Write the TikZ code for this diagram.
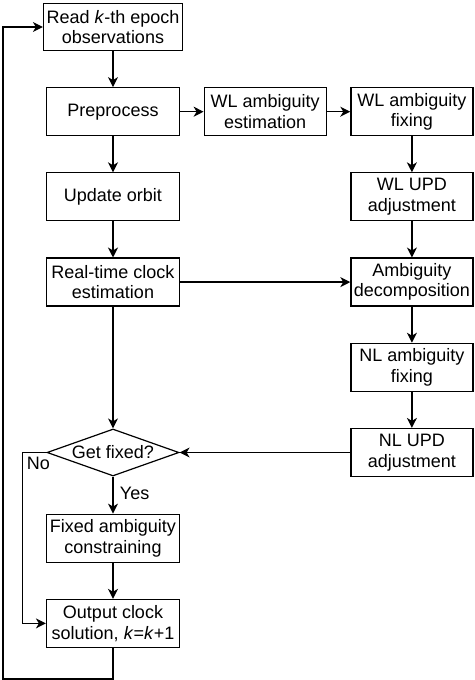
\documentclass[tikz,border=0pt]{standalone}
\usepackage{fontspec}
\setmainfont{Liberation Sans}
\usetikzlibrary{positioning, shapes.geometric, arrows.meta}

\tikzset{
	stepbox/.style={draw, minimum width=133pt, minimum height=48pt, align=center, inner sep=2pt},
	sidebox/.style={stepbox, minimum width=122pt},
	decision/.style={draw, diamond, aspect=2.8, inner sep=0pt, minimum width=132pt, minimum height=47pt}
}

\begin{document}
\begin{tikzpicture}[>={Stealth[length=10pt, width=10pt, inset=3pt]}, line width=1.2pt,
			x=1pt, y=1pt, node distance=36pt and 23.5pt,
			font=\fontsize{18}{20.5}\selectfont]
		\useasboundingbox (0,0) rectangle (474,680);

		\node[stepbox, minimum width=139pt, minimum height=47pt] (read) at (113,653) {Read \textit{k}-th epoch\\observations};
		\node[stepbox] (prep) [below=of read] {Preprocess};
		\node[stepbox] (orbit) [below=of prep] {Update orbit};
		\node[stepbox] (clock) [below=of orbit] {Real-time clock\\estimation};

		\node[sidebox] (wlest) [right=of prep] {WL ambiguity\\estimation};
		\node[sidebox] (wlfix) [right=of wlest] {WL ambiguity\\fixing};
		\node[sidebox] (wlupd) [below=of wlfix] {WL UPD\\adjustment};
		\node[sidebox] (decomp) [below=of wlupd] {Ambiguity\\decomposition};
		\node[sidebox] (nlfix) [below=of decomp] {NL ambiguity\\fixing};
		\node[sidebox] (nlupd) [below=of nlfix] {NL UPD\\adjustment};

		\node[decision] (fixed) at (clock |- nlupd) {Get fixed?};
		\node[stepbox] (constr) [below=37pt of fixed] {Fixed ambiguity\\constraining};
		\node[stepbox] (output) [below=of constr] {Output clock\\solution, \textit{k}=\textit{k}+1};

		\coordinate (loopx) at (3,0);

		\draw[->] (read) -- (prep);
		\draw[->] (prep) -- (orbit);
		\draw[->] (orbit) -- (clock);
		\draw[->] (clock) -- (fixed);
		\draw[->] (prep) -- (wlest);
		\draw[->] (wlest) -- (wlfix);

		\foreach \a/\b in {wlfix/wlupd, wlupd/decomp, decomp/nlfix, nlfix/nlupd} {
				\draw[->] (\a) -- (\b);
			}

		\draw[->] (clock) -- (decomp);
		\draw[->] (nlupd) -- (fixed);
		\draw[->] (fixed) -- node[right, xshift=3pt, yshift=2pt] {Yes} (constr);
		\draw[->] (constr) -- (output);
		\draw[->] (fixed.west) -- ++(-24,0) node[below right, inner sep=4pt] {No} |- (output.west);
		\draw[->] (output.south) -- ++(0,-31) -| (loopx |- read) -- (read.west);
	\end{tikzpicture}
\end{document}
